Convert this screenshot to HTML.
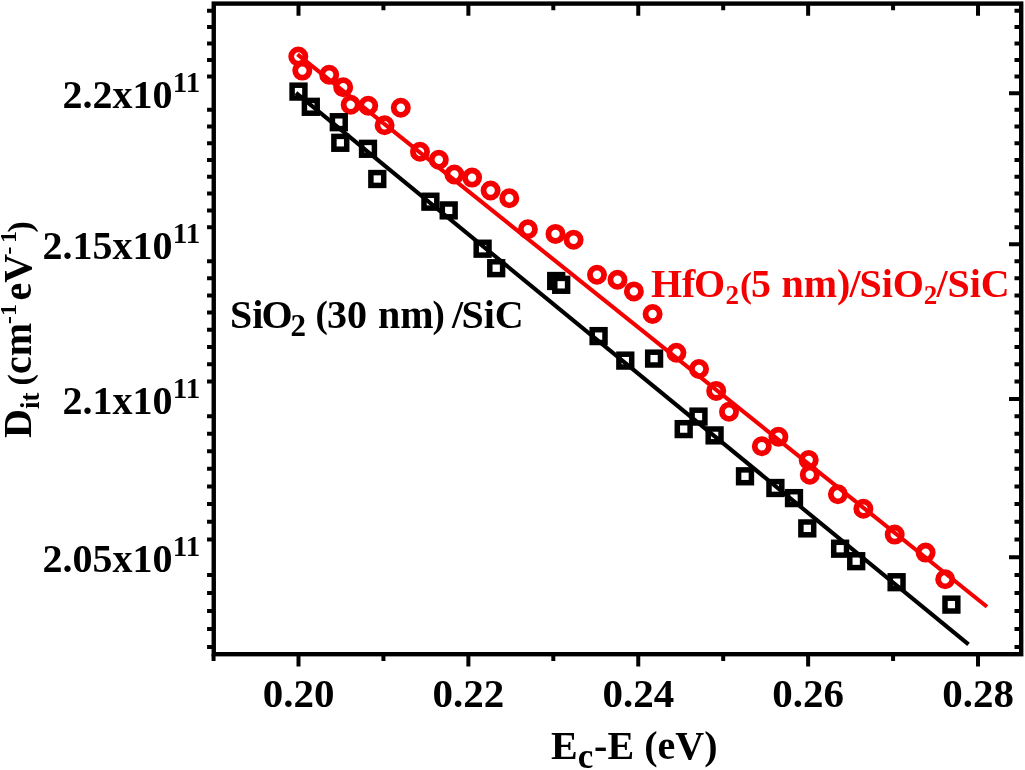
<!DOCTYPE html><html><head><meta charset="utf-8"><style>html,body{margin:0;padding:0;background:#fff;}svg{display:block;}text{font-family:"Liberation Serif","Times New Roman",serif;font-weight:bold;}</style></head><body>
<svg width="1025" height="770" viewBox="0 0 1025 770">
<rect width="1025" height="770" fill="#fff"/>
<path d="M213.75 646.92H207.05M1021.20 646.92H1014.50M213.75 628.89H207.05M1021.20 628.89H1014.50M213.75 610.91H207.05M1021.20 610.91H1014.50M213.75 592.98H207.05M1021.20 592.98H1014.50M213.75 575.09H207.05M1021.20 575.09H1014.50M1021.20 557.26H1009.00M213.75 539.47H207.05M1021.20 539.47H1014.50M213.75 521.74H207.05M1021.20 521.74H1014.50M213.75 504.05H207.05M1021.20 504.05H1014.50M213.75 486.40H207.05M1021.20 486.40H1014.50M213.75 468.81H207.05M1021.20 468.81H1014.50M213.75 451.26H207.05M1021.20 451.26H1014.50M213.75 433.76H207.05M1021.20 433.76H1014.50M213.75 416.30H207.05M1021.20 416.30H1014.50M1021.20 398.89H1009.00M213.75 381.53H207.05M1021.20 381.53H1014.50M213.75 364.21H207.05M1021.20 364.21H1014.50M213.75 346.94H207.05M1021.20 346.94H1014.50M213.75 329.72H207.05M1021.20 329.72H1014.50M213.75 312.53H207.05M1021.20 312.53H1014.50M213.75 295.40H207.05M1021.20 295.40H1014.50M213.75 278.31H207.05M1021.20 278.31H1014.50M213.75 261.26H207.05M1021.20 261.26H1014.50M1021.20 244.25H1009.00M213.75 227.30H207.05M1021.20 227.30H1014.50M213.75 210.38H207.05M1021.20 210.38H1014.50M213.75 193.51H207.05M1021.20 193.51H1014.50M213.75 176.68H207.05M1021.20 176.68H1014.50M213.75 159.89H207.05M1021.20 159.89H1014.50M213.75 143.15H207.05M1021.20 143.15H1014.50M213.75 126.45H207.05M1021.20 126.45H1014.50M213.75 109.79H207.05M1021.20 109.79H1014.50M1021.20 93.17H1009.00M213.75 76.60H207.05M1021.20 76.60H1014.50M213.75 60.06H207.05M1021.20 60.06H1014.50M213.75 43.57H207.05M1021.20 43.57H1014.50M213.75 27.12H207.05M1021.20 27.12H1014.50M213.75 10.71H207.05M1021.20 10.71H1014.50M213.56 654.20V660.90M298.50 654.20V666.40M298.50 3.60V15.80M383.44 654.20V660.90M383.44 3.60V10.30M468.38 654.20V666.40M468.38 3.60V15.80M553.32 654.20V660.90M553.32 3.60V10.30M638.26 654.20V666.40M638.26 3.60V15.80M723.20 654.20V660.90M723.20 3.60V10.30M808.14 654.20V666.40M808.14 3.60V15.80M893.08 654.20V660.90M893.08 3.60V10.30M978.02 654.20V666.40M978.02 3.60V15.80" stroke="#000" stroke-width="4" fill="none"/>
<rect x="213.75" y="3.6" width="807.45" height="650.60" fill="none" stroke="#000" stroke-width="4.4"/>
<g fill="#fff" stroke="#f50000" stroke-width="5.8"><circle cx="298.3" cy="56.5" r="7.1"/><circle cx="302.3" cy="70.6" r="7.1"/><circle cx="329.2" cy="74.8" r="7.1"/><circle cx="343.2" cy="87.3" r="7.1"/><circle cx="350.7" cy="104.7" r="7.1"/><circle cx="368.2" cy="105.8" r="7.1"/><circle cx="400.8" cy="107.8" r="7.1"/><circle cx="384.6" cy="125.2" r="7.1"/><circle cx="420" cy="151.8" r="7.1"/><circle cx="438.8" cy="159.7" r="7.1"/><circle cx="454.4" cy="174.5" r="7.1"/><circle cx="472.1" cy="177.6" r="7.1"/><circle cx="490.6" cy="190.5" r="7.1"/><circle cx="509.3" cy="198.2" r="7.1"/><circle cx="527.9" cy="229.2" r="7.1"/><circle cx="555.5" cy="233.9" r="7.1"/><circle cx="573.6" cy="239.8" r="7.1"/><circle cx="597" cy="274.7" r="7.1"/><circle cx="617.5" cy="279.7" r="7.1"/><circle cx="633.9" cy="291.4" r="7.1"/><circle cx="652.6" cy="314" r="7.1"/><circle cx="676.4" cy="352.8" r="7.1"/><circle cx="699" cy="369" r="7.1"/><circle cx="716.2" cy="390.9" r="7.1"/><circle cx="729" cy="411.8" r="7.1"/><circle cx="761.8" cy="446.2" r="7.1"/><circle cx="778.4" cy="436.8" r="7.1"/><circle cx="808.7" cy="460" r="7.1"/><circle cx="809.8" cy="474.8" r="7.1"/><circle cx="837.9" cy="494.2" r="7.1"/><circle cx="863.4" cy="508.8" r="7.1"/><circle cx="894.7" cy="534.6" r="7.1"/><circle cx="925.6" cy="552.6" r="7.1"/><circle cx="945.2" cy="579.3" r="7.1"/></g>
<g fill="#fff" stroke="#000" stroke-width="5.5"><rect x="292.10" y="85.20" width="12.8" height="12.8"/><rect x="304.40" y="100.40" width="12.8" height="12.8"/><rect x="332.40" y="115.80" width="12.8" height="12.8"/><rect x="333.90" y="136.40" width="12.8" height="12.8"/><rect x="361.60" y="142.40" width="12.8" height="12.8"/><rect x="370.90" y="172.60" width="12.8" height="12.8"/><rect x="424.00" y="195.30" width="12.8" height="12.8"/><rect x="442.30" y="204.00" width="12.8" height="12.8"/><rect x="476.20" y="242.30" width="12.8" height="12.8"/><rect x="489.80" y="261.80" width="12.8" height="12.8"/><rect x="549.80" y="274.60" width="12.8" height="12.8"/><rect x="554.80" y="278.40" width="12.8" height="12.8"/><rect x="592.20" y="329.70" width="12.8" height="12.8"/><rect x="618.90" y="354.20" width="12.8" height="12.8"/><rect x="647.70" y="352.20" width="12.8" height="12.8"/><rect x="677.30" y="422.70" width="12.8" height="12.8"/><rect x="692.10" y="410.20" width="12.8" height="12.8"/><rect x="708.20" y="429.00" width="12.8" height="12.8"/><rect x="738.60" y="469.90" width="12.8" height="12.8"/><rect x="769.00" y="481.60" width="12.8" height="12.8"/><rect x="787.60" y="491.70" width="12.8" height="12.8"/><rect x="800.90" y="522.00" width="12.8" height="12.8"/><rect x="833.70" y="542.30" width="12.8" height="12.8"/><rect x="849.80" y="554.80" width="12.8" height="12.8"/><rect x="890.20" y="575.80" width="12.8" height="12.8"/><rect x="945.00" y="598.20" width="12.8" height="12.8"/></g>
<line x1="297.5" y1="54.38" x2="987" y2="606.76" stroke="#f50000" stroke-width="4.1"/>
<line x1="296" y1="92.95" x2="968.5" y2="644.44" stroke="#000" stroke-width="4.1"/>
<text x="298.50" y="707" font-size="41" text-anchor="middle">0.20</text>
<text x="468.38" y="707" font-size="41" text-anchor="middle">0.22</text>
<text x="638.26" y="707" font-size="41" text-anchor="middle">0.24</text>
<text x="808.14" y="707" font-size="41" text-anchor="middle">0.26</text>
<text x="978.02" y="707" font-size="41" text-anchor="middle">0.28</text>
<text x="172.5" y="108.37" font-size="40" text-anchor="end">2.2x10</text>
<text x="172.8" y="92.17" font-size="29">11</text>
<text x="172.5" y="259.45" font-size="40" text-anchor="end">2.15x10</text>
<text x="172.8" y="243.25" font-size="29">11</text>
<text x="172.5" y="414.09" font-size="40" text-anchor="end">2.1x10</text>
<text x="172.8" y="397.89" font-size="29">11</text>
<text x="172.5" y="572.46" font-size="40" text-anchor="end">2.05x10</text>
<text x="172.8" y="556.26" font-size="29">11</text>
<text y="759" font-size="40"><tspan x="551">E</tspan><tspan font-size="35" dy="8.5">c</tspan><tspan dy="-8.5" x="594">-</tspan><tspan x="607.5">E (eV)</tspan></text>
<text transform="translate(30.7,438) rotate(-90)" y="0" font-size="40"><tspan x="0">D</tspan><tspan font-size="27" dy="8.5">it</tspan><tspan font-size="34" dy="-8.5" x="52.5">(</tspan><tspan x="64">cm</tspan><tspan font-size="24" dy="-14.6" x="114">-</tspan><tspan font-size="24" x="122">1</tspan><tspan dy="14.6" x="137.5">eV</tspan><tspan font-size="24" dy="-14.6" x="183.5">-</tspan><tspan font-size="24" x="195">1</tspan><tspan font-size="34" dy="14.6" x="205.5">)</tspan></text>
<text font-size="40"><tspan x="230" y="328">Si</tspan><tspan x="261.5" y="328">O</tspan><tspan font-size="31" x="290.5" y="335.5">2</tspan><tspan font-size="37" x="315.5" y="327">(</tspan><tspan x="327" y="328">30</tspan><tspan x="378" y="328">nm</tspan><tspan font-size="37" x="432.5" y="327">)</tspan><tspan x="452" y="328">/</tspan><tspan x="461.5" y="328">SiC</tspan></text>
<text font-size="40" fill="#f50000"><tspan x="651" y="296.5">Hf</tspan><tspan x="694" y="296.5">O</tspan><tspan font-size="27" x="725.5" y="303.5">2</tspan><tspan font-size="36" x="740" y="297">(</tspan><tspan x="751" y="296.5">5</tspan><tspan x="781.5" y="296.5">nm)</tspan><tspan x="849.5" y="296.5">/</tspan><tspan x="859.5" y="296.5">SiO</tspan><tspan font-size="27" x="923.8" y="303.5">2</tspan><tspan x="936.5" y="296.5">/</tspan><tspan x="947.5" y="296.5">SiC</tspan></text>
</svg></body></html>
